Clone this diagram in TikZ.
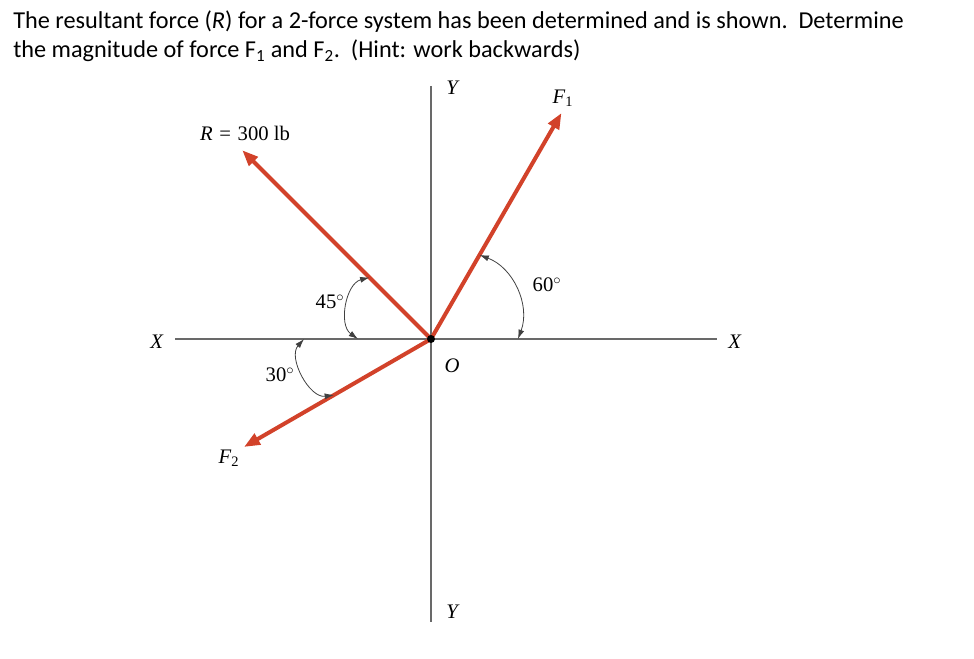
\documentclass[tikz,border=0pt]{standalone}
\usepackage{fontspec}
\setmainfont{Liberation Serif}
\newfontfamily\titlefont{Carlito}
\usetikzlibrary{arrows.meta,calc}
\definecolor{forcered}{RGB}{210,66,42}
\definecolor{axisgray}{RGB}{105,105,105}

\begin{document}
\begin{tikzpicture}[line join=round,x=0.75pt,y=0.75pt,
  force/.style={forcered,line width=3pt,-{Triangle[length=12pt,width=9pt]}},
  axisline/.style={axisgray,line width=1.1pt},
  anglearc/.style={black!75,line width=0.6pt,{Latex[length=7pt,width=4.5pt]}-{Latex[length=7pt,width=4.5pt]}},
  lbl/.style={font=\fontsize{15.5}{15.5}\selectfont}]
\useasboundingbox (0,0) rectangle (974,658);
% question text
\node[anchor=base west,align=left,inner sep=0pt,
  font=\titlefont\fontsize{18.2}{22}\selectfont] (question) at (13,600)
  {The resultant force (\textit{R}) for a 2-force system has been determined and is shown.\ \ Determine\\
   the magnitude of force F\textsubscript{1} and F\textsubscript{2}.\ \ (Hint: work backwards)};
% axes
\coordinate (O) at (431,319);
\coordinate (Xl) at (175,319);
\coordinate (Xr) at (717,319);
\coordinate (Yt) at (431,572);
\coordinate (Yb) at (431,36);
\draw[axisline] (Xl) -- (Xr);
\draw[axisline] (Yt) -- (Yb);
% forces
\coordinate (Rtip) at ($(O)+(135:267)$);
\coordinate (F1tip) at ($(O)+(60:261)$);
\coordinate (F2tip) at ($(O)+(210:216)$);
\draw[force] (O) -- (Rtip);
\draw[force] (O) -- (F1tip);
\draw[force] (O) -- (F2tip);
\fill (O) circle[radius=4];
% angle arcs
\coordinate (a45a) at ($(O)+(180:73)$);
\coordinate (a45b) at ($(O)+(135:87)$);
\coordinate (a30a) at ($(O)+(180:127)$);
\coordinate (a30b) at ($(O)+(210:112)$);
\coordinate (a60a) at ($(O)+(60:97)$);
\coordinate (a60b) at ($(O)+(0:87)$);
\draw[anglearc] (a45a) to[bend left=65] (a45b);
\draw[anglearc] (a30a) to[bend right=70] (a30b);
\draw[anglearc] (a60a) to[bend left=45] (a60b);
% labels
\node[lbl] (l45) at (330,356) {45$^\circ$};
\node[lbl] (l30) at (280,283) {30$^\circ$};
\node[lbl] (l60) at (547,373) {60$^\circ$};
\node[lbl] (lR) at (245,525) {\textit{R}\kern5pt=\kern5pt300 lb};
\node[lbl] (lF1) at (563,560) {\textit{F}\textsubscript{1}};
\node[lbl] (lF2) at (229,200) {\textit{F}\textsubscript{2}};
\node[lbl] (lYt) at (453,570) {\textit{Y}};
\node[lbl] (lYb) at (453,46) {\textit{Y}};
\node[lbl] (lXl) at (157,316) {\textit{X}};
\node[lbl] (lXr) at (735,316) {\textit{X}};
\node[lbl] (lO) at (452,292) {\textit{O}};
\end{tikzpicture}
\end{document}
